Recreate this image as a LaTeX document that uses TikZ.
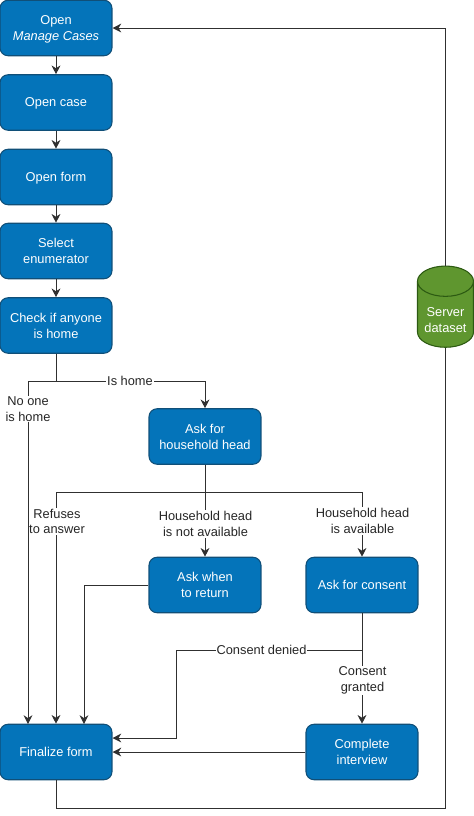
\documentclass[tikz,border=0pt]{standalone}
\usepackage{fontspec}
\setmainfont{Liberation Sans}
\usetikzlibrary{arrows.meta,shapes.geometric}
\definecolor{stepblue}{HTML}{0474BA}
\definecolor{stepedge}{HTML}{104F78}
\definecolor{servergreen}{HTML}{5F962F}
\definecolor{serveredge}{HTML}{2C5A12}
\definecolor{linkgray}{HTML}{303030}
\tikzset{
  stepbox/.style={draw=stepedge,fill=stepblue,text=white,rounded corners=.16cm,line width=.6pt,minimum width=2.24cm,minimum height=1.11cm,inner sep=0pt,align=center,text depth=0pt,font=\fontsize{7.3}{9}\selectfont},
  serverbox/.style={draw=serveredge,fill=servergreen,text=white,cylinder,shape border rotate=90,aspect=.72,cylinder uses custom fill,cylinder body fill=servergreen,cylinder end fill=servergreen,line width=.6pt,minimum width=1.12cm,minimum height=1.26cm,inner sep=0pt,align=center,font=\fontsize{7.3}{9}\selectfont},
  link/.style={draw=linkgray,line width=.55pt,-{Stealth[length=5pt,width=5pt]}},
  plainlink/.style={draw=linkgray,line width=.55pt},
  linklabel/.style={fill=white,inner sep=.6pt,align=center,text=black!85,font=\fontsize{7.3}{9}\selectfont}
}
\begin{document}
\begin{tikzpicture}[x=.02cm,y=-.02cm]
  \useasboundingbox (0,0) rectangle (474,816);
  \node[stepbox] (manage) at (56,28) {Open\\\textit{Manage Cases}};
  \node[stepbox] (case) at (56,102.5) {Open case};
  \node[stepbox] (form) at (56,177) {Open form};
  \node[stepbox] (enumerator) at (56,251) {Select\\enumerator};
  \node[stepbox] (check) at (56,325.5) {Check if anyone\\is home};
  \node[stepbox] (head) at (205,436.5) {Ask for\\household head};
  \node[stepbox] (when) at (205,585) {Ask when\\to return};
  \node[stepbox] (consent) at (362,585) {Ask for consent};
  \node[stepbox] (finalize) at (56,752) {Finalize form};
  \node[stepbox] (interview) at (362,752) {Complete\\interview};
  \node[serverbox] (server) at (445.5,314.5) {\rule{0pt}{11pt}Server\\dataset};
  \coordinate (homesplit) at (56,381);
  \coordinate (headsplit) at (205,492);
  \coordinate (consentsplit) at (362,650);
  \draw[link] (manage)--(case);
  \draw[link] (case)--(form);
  \draw[link] (form)--(enumerator);
  \draw[link] (enumerator)--(check);
  \draw[plainlink] (check)--(homesplit);
  \draw[link] (homesplit)-|(head);
  \draw[link] (homesplit)-|(28,724);
  \draw[plainlink] (head)--(headsplit);
  \draw[link] (headsplit)-|(finalize);
  \draw[link] (headsplit)--(when);
  \draw[link] (headsplit)-|(consent);
  \draw[link] (when.west)-|(84,724);
  \draw[plainlink] (consent)--(consentsplit);
  \draw[link] (consentsplit)--(interview);
  \draw[link] (consentsplit)-|(176,738)--(112.5,738);
  \draw[link] (interview)--(finalize);
  \draw[plainlink] (finalize.south)|-(445.5,808)--(server.south);
  \draw[link] (server.north)|-(manage.east);
  \node[linklabel] (ishome) at (130,380.5) {Is home};
  \node[linklabel] (nohome) at (28,409) {No one\\is home};
  \node[linklabel,inner xsep=0pt] (refuses) at (57,521.5) {Refuses\\to answer};
  \node[linklabel] (notavail) at (205.5,524) {Household head\\is not available};
  \node[linklabel] (avail) at (362.5,521) {Household head\\is available};
  \node[linklabel] (denied) at (261.5,650) {Consent denied};
  \node[linklabel] (granted) at (362.5,680.5) {Consent\\granted};
\end{tikzpicture}
\end{document}
